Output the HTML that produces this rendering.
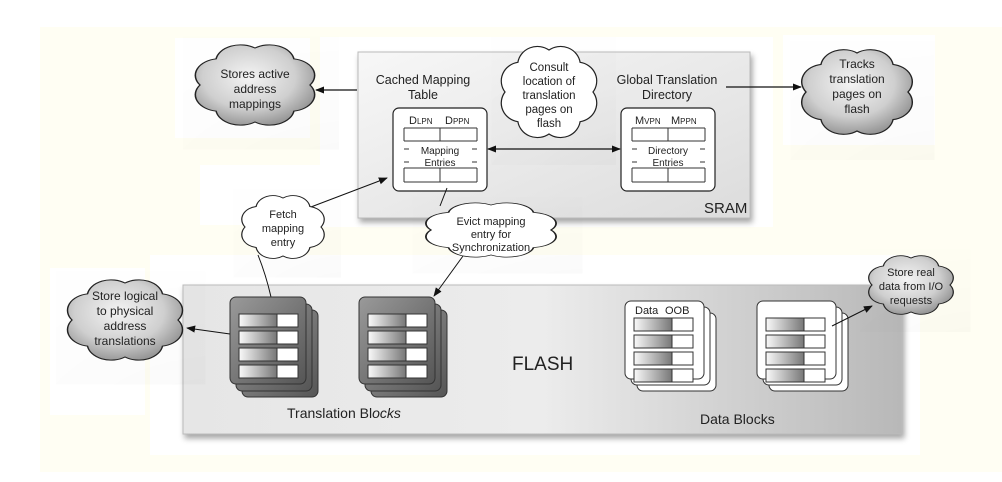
<!DOCTYPE html>
<html><head><meta charset="utf-8"><style>
html,body{margin:0;padding:0;background:#fff}
svg{display:block}
text{font-family:"Liberation Sans",sans-serif;fill:#222}
</style></head><body>
<svg width="1002" height="482" viewBox="0 0 1002 482" xmlns="http://www.w3.org/2000/svg">
<defs>
<radialGradient id="cg" cx="0.45" cy="0.4" r="0.65"><stop offset="0" stop-color="#f4f4f4"/><stop offset="0.6" stop-color="#cfcfcf"/><stop offset="1" stop-color="#8e8e8e"/></radialGradient>
<linearGradient id="box" x1="0" y1="0" x2="1" y2="1"><stop offset="0" stop-color="#f7f7f7"/><stop offset="1" stop-color="#dcdcdc"/></linearGradient>
<linearGradient id="fbox" x1="0" y1="0" x2="1" y2="0"><stop offset="0" stop-color="#e6e6e6"/><stop offset="0.5" stop-color="#ececec"/><stop offset="1" stop-color="#b8b8b8"/></linearGradient>
<linearGradient id="dark" x1="0" y1="0" x2="1" y2="1"><stop offset="0" stop-color="#9a9a9a"/><stop offset="1" stop-color="#555"/></linearGradient>
<linearGradient id="cell" x1="0" y1="0" x2="1" y2="0"><stop offset="0" stop-color="#fafafa"/><stop offset="1" stop-color="#777"/></linearGradient>
<path id="cloud" d="M1,0 A.45,.45 0 0 1 .707,.707 A.45,.45 0 0 1 0,1 A.45,.45 0 0 1 -.707,.707 A.45,.45 0 0 1 -1,0 A.45,.45 0 0 1 -.707,-.707 A.45,.45 0 0 1 0,-1 A.45,.45 0 0 1 .707,-.707 A.45,.45 0 0 1 1,0 Z"/>
<marker id="ah" viewBox="0 0 10 10" refX="9" refY="5" markerWidth="9" markerHeight="9" orient="auto-start-reverse" markerUnits="userSpaceOnUse"><path d="M0,1 L10,5 L0,9 Z" fill="#111"/></marker>
<filter id="sh" x="-10%" y="-10%" width="130%" height="140%"><feDropShadow dx="2" dy="4" stdDeviation="3" flood-color="#000" flood-opacity="0.35"/></filter>
</defs>
<!-- background -->
<rect x="40" y="27" width="962" height="445" fill="#fffef3"/>
<rect x="175" y="38" width="135" height="100" fill="#fff"/>
<rect x="320" y="37" width="453" height="190" fill="#fff"/>
<rect x="783" y="35" width="152" height="110" fill="#fff"/>
<rect x="200" y="165" width="520" height="60" fill="#fff"/>
<rect x="50" y="268" width="95" height="147" fill="#fff"/>
<rect x="150" y="255" width="770" height="200" fill="#fff"/>

<!-- SRAM box -->
<rect x="358" y="52" width="392" height="166" fill="url(#box)" stroke="#bbb" filter="url(#sh)"/>
<text x="704" y="213" font-size="15">SRAM</text>
<text x="423" y="84" font-size="12.5" text-anchor="middle">Cached Mapping</text>
<text x="423" y="99" font-size="12.5" text-anchor="middle">Table</text>
<text x="667" y="84" font-size="12.5" text-anchor="middle">Global Translation</text>
<text x="667" y="99" font-size="12.5" text-anchor="middle">Directory</text>

<!-- tables -->
<g id="t1">
<rect x="393" y="108" width="94" height="83" rx="6" fill="#fff" stroke="#222" stroke-width="1.2"/>
<g stroke="#333" fill="none" stroke-width="1">
<line x1="404" y1="128" x2="477" y2="128"/><line x1="404" y1="141" x2="477" y2="141"/>
<line x1="404" y1="168" x2="477" y2="168"/><line x1="404" y1="182" x2="477" y2="182"/>
<line x1="404" y1="128" x2="404" y2="141"/><line x1="477" y1="128" x2="477" y2="141"/>
<line x1="404" y1="168" x2="404" y2="182"/><line x1="477" y1="168" x2="477" y2="182"/>
<line x1="440" y1="128" x2="440" y2="141"/><line x1="440" y1="168" x2="440" y2="182"/>
<line x1="404" y1="149" x2="409" y2="149"/><line x1="472" y1="149" x2="477" y2="149"/>
<line x1="404" y1="162" x2="409" y2="162"/><line x1="472" y1="162" x2="477" y2="162"/>
</g>
</g>
<text x="409" y="124" font-size="11">D<tspan font-size="8">LPN</tspan></text>
<text x="445" y="124" font-size="11">D<tspan font-size="8">PPN</tspan></text>
<text x="440" y="154" font-size="10" text-anchor="middle">Mapping</text>
<text x="440" y="166" font-size="10" text-anchor="middle">Entries</text>
<use href="#t1" transform="translate(228,0)"/>
<text x="635" y="124" font-size="11">M<tspan font-size="8">VPN</tspan></text>
<text x="671" y="124" font-size="11">M<tspan font-size="8">PPN</tspan></text>
<text x="668" y="154" font-size="10" text-anchor="middle">Directory</text>
<text x="668" y="166" font-size="10" text-anchor="middle">Entries</text>

<!-- FLASH box -->
<rect x="183" y="285" width="719" height="149" fill="url(#fbox)" stroke="#bbb" filter="url(#sh)"/>
<text x="512" y="370" font-size="19">FLASH</text>
<text x="287" y="418" font-size="14">Translation Bl<tspan font-style="italic">ocks</tspan></text>
<text x="700" y="424" font-size="14">Data Blocks</text>

<!-- connectors -->
<line x1="488" y1="149" x2="620" y2="149" stroke="#111" stroke-width="1.2" marker-start="url(#ah)" marker-end="url(#ah)"/>
<line x1="357" y1="90" x2="316" y2="90" stroke="#111" stroke-width="1.2" marker-end="url(#ah)"/>
<line x1="726" y1="87" x2="801" y2="87" stroke="#111" stroke-width="1.2" marker-end="url(#ah)"/>
<line x1="303" y1="210" x2="387" y2="178" stroke="#111" stroke-width="1" marker-end="url(#ah)"/>
<path d="M258,255 Q266,275 271,297" stroke="#111" fill="none"/>
<line x1="447" y1="188" x2="440" y2="206" stroke="#111"/>
<line x1="463" y1="256" x2="434" y2="296" stroke="#111" marker-end="url(#ah)"/>

<!-- translation block stacks -->
<g id="tb">
<rect x="242" y="310" width="76" height="87" rx="6" fill="url(#dark)" stroke="#333"/>
<rect x="236" y="304" width="76" height="87" rx="6" fill="url(#dark)" stroke="#333"/>
<rect x="230" y="297" width="76" height="87" rx="6" fill="url(#dark)" stroke="#333"/>
<g stroke="#333">
<rect x="239" y="314" width="38" height="13" fill="url(#cell)"/><rect x="277" y="314" width="21" height="13" fill="#fff"/>
<rect x="239" y="331" width="38" height="13" fill="url(#cell)"/><rect x="277" y="331" width="21" height="13" fill="#fff"/>
<rect x="239" y="348" width="38" height="13" fill="url(#cell)"/><rect x="277" y="348" width="21" height="13" fill="#fff"/>
<rect x="239" y="365" width="38" height="13" fill="url(#cell)"/><rect x="277" y="365" width="21" height="13" fill="#fff"/>
</g>
</g>
<use href="#tb" transform="translate(129,0)"/>
<line x1="230" y1="334" x2="187" y2="328" stroke="#111" marker-end="url(#ah)"/>

<!-- data block stacks -->
<g id="db">
<rect x="637" y="313" width="79" height="78" rx="6" fill="#fff" stroke="#333"/>
<rect x="631" y="307" width="79" height="78" rx="6" fill="#fff" stroke="#333"/>
<rect x="625" y="301" width="79" height="78" rx="6" fill="#fff" stroke="#333"/>
<g stroke="#333">
<rect x="634" y="318" width="38" height="13" fill="url(#cell)"/><rect x="672" y="318" width="21" height="13" fill="#fff"/>
<rect x="634" y="335" width="38" height="13" fill="url(#cell)"/><rect x="672" y="335" width="21" height="13" fill="#fff"/>
<rect x="634" y="352" width="38" height="13" fill="url(#cell)"/><rect x="672" y="352" width="21" height="13" fill="#fff"/>
<rect x="634" y="369" width="38" height="13" fill="url(#cell)"/><rect x="672" y="369" width="21" height="13" fill="#fff"/>
</g>
</g>
<text x="635" y="314" font-size="11">Data</text>
<text x="665" y="314" font-size="11">OOB</text>
<use href="#db" transform="translate(132,0)"/>
<line x1="832" y1="326" x2="872" y2="306" stroke="#111" marker-end="url(#ah)"/>

<!-- clouds -->
<g stroke="#222">
<use href="#cloud" transform="translate(255,85) scale(55,37)" fill="url(#cg)" filter="url(#sh)" stroke-width="0.028"/>
<use href="#cloud" transform="translate(549,92) scale(44,42)" fill="#fff" filter="url(#sh)" stroke-width="0.028"/>
<use href="#cloud" transform="translate(857,92) scale(51,39)" fill="url(#cg)" filter="url(#sh)" stroke-width="0.028"/>
<use href="#cloud" transform="translate(283,227) scale(38,29)" fill="#fff" filter="url(#sh)" stroke-width="0.032"/>
<use href="#cloud" transform="translate(491,230) scale(60,25)" fill="#fff" filter="url(#sh)" stroke-width="0.03"/>
<use href="#cloud" transform="translate(125,320) scale(53,37)" fill="url(#cg)" filter="url(#sh)" stroke-width="0.028"/>
<use href="#cloud" transform="translate(911,285) scale(39,27)" fill="url(#cg)" filter="url(#sh)" stroke-width="0.032"/>
</g>
<g font-size="12" text-anchor="middle">
<text x="255" y="78">Stores active</text><text x="255" y="93">address</text><text x="255" y="108">mappings</text>
<text x="549" y="71" font-size="11.5">Consult</text><text x="549" y="85" font-size="11.5">location of</text><text x="549" y="99" font-size="11.5">translation</text><text x="549" y="113" font-size="11.5">pages on</text><text x="549" y="127" font-size="11.5">flash</text>
<text x="857" y="68">Tracks</text><text x="857" y="83">translation</text><text x="857" y="98">pages on</text><text x="857" y="113">flash</text>
<text x="283" y="218" font-size="11">Fetch</text><text x="283" y="232" font-size="11">mapping</text><text x="283" y="246" font-size="11">entry</text>
<text x="491" y="225" font-size="11">Evict mapping</text><text x="491" y="238" font-size="11">entry for</text><text x="491" y="251" font-size="11">Synchronization</text>
<text x="125" y="300">Store logical</text><text x="125" y="315">to physical</text><text x="125" y="330">address</text><text x="125" y="345">translations</text>
<text x="911" y="276" font-size="11">Store real</text><text x="911" y="290" font-size="11">data from I/O</text><text x="911" y="304" font-size="11">requests</text>
</g>
</svg>
</body></html>
